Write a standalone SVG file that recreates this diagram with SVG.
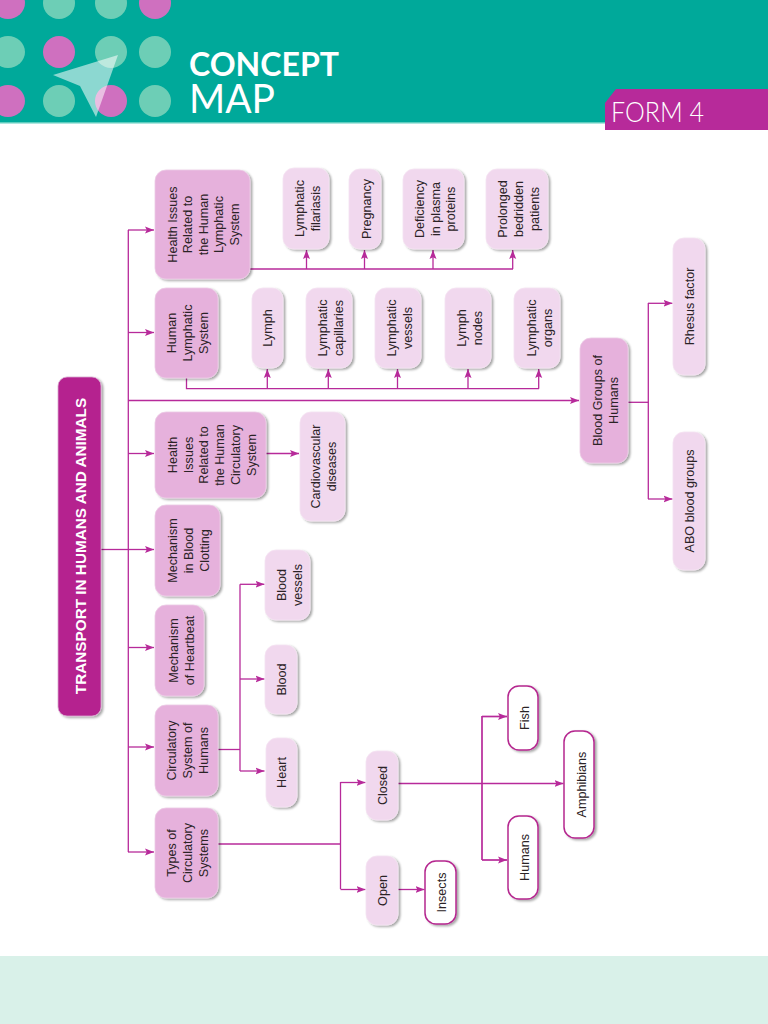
<svg xmlns="http://www.w3.org/2000/svg" width="768" height="1024" viewBox="0 0 768 1024">
<style>
text{font-family:"Liberation Sans",Arial,sans-serif;font-size:12.6px;fill:#2b2326;text-anchor:middle}
.d rect{fill:#e6b1dc;stroke:#eccbe6;stroke-width:.8;filter:url(#s)}
.l rect{fill:#f1d8ee;stroke:#f5e3f2;stroke-width:.8;filter:url(#s)}
.w rect{fill:#fff;stroke:#b5278f;stroke-width:1.5;filter:url(#s)}
#connectors path{fill:none;stroke:#b72a9a;stroke-width:1.3}
.hd{font-family:Lato,"Open Sans","Liberation Sans",sans-serif;fill:#fff;text-anchor:start}
</style>
<defs>
<filter id="s" x="-20%" y="-20%" width="150%" height="150%"><feDropShadow dx="2" dy="1.500" stdDeviation="1.300" flood-color="#000" flood-opacity=".35"/></filter>
<marker id="a" markerUnits="userSpaceOnUse" markerWidth="10" markerHeight="8" refX="9" refY="4" orient="auto"><path d="M0 .5L9 4L0 7.500L1.800 4Z" fill="#b72a9a"/></marker>
</defs>
<rect width="768" height="1024" fill="#fff"/>
<g id="header">
<rect width="768" height="122" fill="#00a99a"/>
<rect y="122" width="768" height="1.500" fill="#5fcdbf"/>
<g fill="#6dceb6">
<ellipse cx="59" cy="3" rx="16" ry="16"/><ellipse cx="111" cy="3" rx="16" ry="16"/>
<ellipse cx="8" cy="52" rx="17" ry="16"/><ellipse cx="111" cy="52" rx="16" ry="16"/><ellipse cx="155" cy="52" rx="16" ry="16"/>
<ellipse cx="59" cy="101" rx="16" ry="16"/><ellipse cx="155" cy="101" rx="16" ry="16"/>
</g>
<g fill="#cf70bf">
<ellipse cx="8" cy="3" rx="17" ry="16"/><ellipse cx="155" cy="3" rx="16" ry="16"/>
<ellipse cx="59" cy="52" rx="16" ry="16"/>
<ellipse cx="8" cy="101" rx="17" ry="16"/><ellipse cx="111" cy="101" rx="16" ry="16"/>
</g>
<path d="M53 75L118 55L96 117L80 86Z" fill="#fff" fill-opacity=".55"/>
<text class="hd" x="189" y="76" style="font-size:32px;font-weight:700" textLength="150" lengthAdjust="spacingAndGlyphs">CONCEPT</text>
<text class="hd" x="189" y="113" style="font-size:40px;font-weight:400" textLength="86" lengthAdjust="spacingAndGlyphs">MAP</text>
<path id="formtab" d="M605 130V103L616 89H768V130Z" fill="#b72a9a"/>
<text class="hd" x="611" y="122" style="font-size:28px;font-weight:300" textLength="93" lengthAdjust="spacingAndGlyphs">FORM 4</text>
</g>
<rect id="footer" y="956" width="768" height="68" fill="#d9f1e9"/>
<g id="connectors">
<path d="M101 549.500H128"/>
<path d="M128.300 230V852"/>
<path d="M128 230H154" marker-end="url(#a)"/>
<path d="M128 332.500H154" marker-end="url(#a)"/>
<path d="M128 400.500H579" marker-end="url(#a)"/>
<path d="M128 453.500H154" marker-end="url(#a)"/>
<path d="M128 549.500H154" marker-end="url(#a)"/>
<path d="M128 647.500H154" marker-end="url(#a)"/>
<path d="M128 747H154" marker-end="url(#a)"/>
<path d="M128 852H154" marker-end="url(#a)"/>
<path d="M250 269H513"/>
<path d="M306.500 269V250" marker-end="url(#a)"/>
<path d="M364.500 269V250" marker-end="url(#a)"/>
<path d="M433 269V250" marker-end="url(#a)"/>
<path d="M512.700 269V250" marker-end="url(#a)"/>
<path d="M186.500 378V388.700H539"/>
<path d="M267.300 388.700V369" marker-end="url(#a)"/>
<path d="M328.300 388.700V369" marker-end="url(#a)"/>
<path d="M397.500 388.700V369" marker-end="url(#a)"/>
<path d="M468 388.700V369" marker-end="url(#a)"/>
<path d="M538.700 388.700V369" marker-end="url(#a)"/>
<path d="M266 453.500H299" marker-end="url(#a)"/>
<path d="M628 402.300H648.500"/>
<path d="M648.300 303V499"/>
<path d="M648 303.300H672.500" marker-end="url(#a)"/>
<path d="M648 499H672.500" marker-end="url(#a)"/>
<path d="M218 749.500H240"/>
<path d="M240 584.300V771"/>
<path d="M240 584.300H264.500" marker-end="url(#a)"/>
<path d="M240 679H264.500" marker-end="url(#a)"/>
<path d="M240 771H264.500" marker-end="url(#a)"/>
<path d="M218 844H341"/>
<path d="M340.500 782V889"/>
<path d="M340.500 782.500H365.500" marker-end="url(#a)"/>
<path d="M340.500 889.500H365.500" marker-end="url(#a)"/>
<path d="M398 889.500H424.500" marker-end="url(#a)"/>
<path d="M398 783.500H563.500" marker-end="url(#a)"/>
<path d="M482 716V860" style="stroke-width:1.700"/>
<path d="M482 716.500H507" style="stroke-width:1.700" marker-end="url(#a)"/>
<path d="M482 860H507" style="stroke-width:1.700" marker-end="url(#a)"/>
</g>
<g id="n-main"><rect x="58" y="377" width="43" height="339" rx="9" fill="#b5218f" stroke="#d9a8cf" stroke-width=".8" filter="url(#s)"/><text transform="translate(86 546) rotate(-90)" style="font-size:15.300px;font-weight:700;fill:#fff">TRANSPORT IN HUMANS AND ANIMALS</text></g>
<g id="n-hl" class="d"><rect x="155" y="170" width="95" height="109" rx="11"/><text transform="translate(203.500 224.500) rotate(-90)"><tspan x="0" y="-27">Health Issues</tspan><tspan x="0" y="-11.500">Related to</tspan><tspan x="0" y="4">the Human</tspan><tspan x="0" y="19.500">Lymphatic</tspan><tspan x="0" y="35">System</tspan></text></g>
<g id="n-hu" class="d"><rect x="155" y="288" width="63" height="90" rx="11"/><text transform="translate(187.500 333) rotate(-90)"><tspan x="0" y="-11.500">Human</tspan><tspan x="0" y="4.500">Lymphatic</tspan><tspan x="0" y="20.500">System</tspan></text></g>
<g id="n-hc" class="d"><rect x="155" y="412" width="111" height="86" rx="11"/><text transform="translate(211 455) rotate(-90)"><tspan x="0" y="-34">Health</tspan><tspan x="0" y="-18.300">Issues</tspan><tspan x="0" y="-2.600">Related to</tspan><tspan x="0" y="13.100">the Human</tspan><tspan x="0" y="28.800">Circulatory</tspan><tspan x="0" y="44.500">System</tspan></text></g>
<g id="n-mb" class="d"><rect x="155" y="505" width="65" height="91" rx="11"/><text transform="translate(188.500 550.500) rotate(-90)"><tspan x="0" y="-11.500">Mechanism</tspan><tspan x="0" y="4.500">in Blood</tspan><tspan x="0" y="20.500">Clotting</tspan></text></g>
<g id="n-mh" class="d"><rect x="155" y="605" width="49" height="91" rx="11"/><text transform="translate(181.500 650.500) rotate(-90)"><tspan x="0" y="-3.500">Mechanism</tspan><tspan x="0" y="12.500">of Heartbeat</tspan></text></g>
<g id="n-cs" class="d"><rect x="155" y="705" width="63" height="91" rx="11"/><text transform="translate(187.500 750.500) rotate(-90)"><tspan x="0" y="-11.500">Circulatory</tspan><tspan x="0" y="4.500">System of</tspan><tspan x="0" y="20.500">Humans</tspan></text></g>
<g id="n-ty" class="d"><rect x="155" y="808" width="63" height="90" rx="11"/><text transform="translate(187.500 853) rotate(-90)"><tspan x="0" y="-11.500">Types of</tspan><tspan x="0" y="4.500">Circulatory</tspan><tspan x="0" y="20.500">Systems</tspan></text></g>
<g id="n-bg" class="d"><rect x="580" y="338" width="48" height="125" rx="11"/><text transform="translate(605 400.500) rotate(-90)"><tspan x="0" y="-3.500">Blood Groups of</tspan><tspan x="0" y="12.500">Humans</tspan></text></g>
<g id="n-lf" class="l"><rect x="283" y="168" width="46" height="81" rx="11"/><text transform="translate(307.500 208.500) rotate(-90)"><tspan x="0" y="-3.500">Lymphatic</tspan><tspan x="0" y="12.500">filariasis</tspan></text></g>
<g id="n-pr" class="l"><rect x="349" y="169" width="32" height="80" rx="11"/><text transform="translate(366 209) rotate(-90)"><tspan x="0" y="4.500">Pregnancy</tspan></text></g>
<g id="n-de" class="l"><rect x="403" y="169" width="61" height="80" rx="11"/><text transform="translate(435 209) rotate(-90)"><tspan x="0" y="-11.500">Deficiency</tspan><tspan x="0" y="4.500">in plasma</tspan><tspan x="0" y="20">proteins</tspan></text></g>
<g id="n-pb" class="l"><rect x="486" y="169" width="62" height="80" rx="11"/><text transform="translate(518.500 209) rotate(-90)"><tspan x="0" y="-11.500">Prolonged</tspan><tspan x="0" y="4.500">bedridden</tspan><tspan x="0" y="20">patients</tspan></text></g>
<g id="n-ly" class="l"><rect x="252" y="288" width="31" height="80" rx="11"/><text transform="translate(267.500 328) rotate(-90)"><tspan x="0" y="4.500">Lymph</tspan></text></g>
<g id="n-lc" class="l"><rect x="306" y="288" width="46" height="80" rx="11"/><text transform="translate(330 328) rotate(-90)"><tspan x="0" y="-3.500">Lymphatic</tspan><tspan x="0" y="12.500">capillaries</tspan></text></g>
<g id="n-lv" class="l"><rect x="375" y="288" width="46" height="80" rx="11"/><text transform="translate(399 328) rotate(-90)"><tspan x="0" y="-3.500">Lymphatic</tspan><tspan x="0" y="12.500">vessels</tspan></text></g>
<g id="n-ln" class="l"><rect x="445" y="288" width="46" height="80" rx="11"/><text transform="translate(469 328) rotate(-90)"><tspan x="0" y="-3.500">Lymph</tspan><tspan x="0" y="12.500">nodes</tspan></text></g>
<g id="n-lo" class="l"><rect x="514" y="288" width="46" height="80" rx="11"/><text transform="translate(539 328) rotate(-90)"><tspan x="0" y="-3.500">Lymphatic</tspan><tspan x="0" y="12.500">organs</tspan></text></g>
<g id="n-rh" class="l"><rect x="673" y="238" width="32" height="137" rx="11"/><text transform="translate(689.500 306.500) rotate(-90)"><tspan x="0" y="4.500">Rhesus factor</tspan></text></g>
<g id="n-ab" class="l"><rect x="673" y="432" width="32" height="138" rx="11"/><text transform="translate(689.500 501) rotate(-90)"><tspan x="0" y="4.500">ABO blood groups</tspan></text></g>
<g id="n-cv" class="l"><rect x="300" y="412" width="45" height="109" rx="11"/><text transform="translate(323.500 466.500) rotate(-90)"><tspan x="0" y="-3.500">Cardiovascular</tspan><tspan x="0" y="12.500">diseases</tspan></text></g>
<g id="n-bv" class="l"><rect x="265" y="550" width="45" height="70" rx="11"/><text transform="translate(289.500 585) rotate(-90)"><tspan x="0" y="-3.500">Blood</tspan><tspan x="0" y="12.500">vessels</tspan></text></g>
<g id="n-bl" class="l"><rect x="265" y="645" width="32" height="69" rx="11"/><text transform="translate(281.500 679.500) rotate(-90)"><tspan x="0" y="4.500">Blood</tspan></text></g>
<g id="n-he" class="l"><rect x="266" y="738" width="31" height="69" rx="11"/><text transform="translate(281.500 772.500) rotate(-90)"><tspan x="0" y="4.500">Heart</tspan></text></g>
<g id="n-cl" class="l"><rect x="366" y="751" width="32" height="69" rx="11"/><text transform="translate(382 785.500) rotate(-90)"><tspan x="0" y="4.500">Closed</tspan></text></g>
<g id="n-op" class="l"><rect x="366" y="856" width="32" height="69" rx="11"/><text transform="translate(382 890.500) rotate(-90)"><tspan x="0" y="4.500">Open</tspan></text></g>
<g id="n-in" class="w"><rect x="425" y="861" width="31" height="63" rx="11"/><text transform="translate(441 892.500) rotate(-90)"><tspan x="0" y="4.500">Insects</tspan></text></g>
<g id="n-hm" class="w"><rect x="508" y="816" width="30" height="83" rx="11"/><text transform="translate(524 857.500) rotate(-90)"><tspan x="0" y="4.500">Humans</tspan></text></g>
<g id="n-fi" class="w"><rect x="508" y="686" width="30" height="64" rx="11"/><text transform="translate(524 718) rotate(-90)"><tspan x="0" y="4.500">Fish</tspan></text></g>
<g id="n-am" class="w"><rect x="564" y="731" width="30" height="107" rx="11"/><text transform="translate(581 784.500) rotate(-90)"><tspan x="0" y="4.500">Amphibians</tspan></text></g>
</svg>
